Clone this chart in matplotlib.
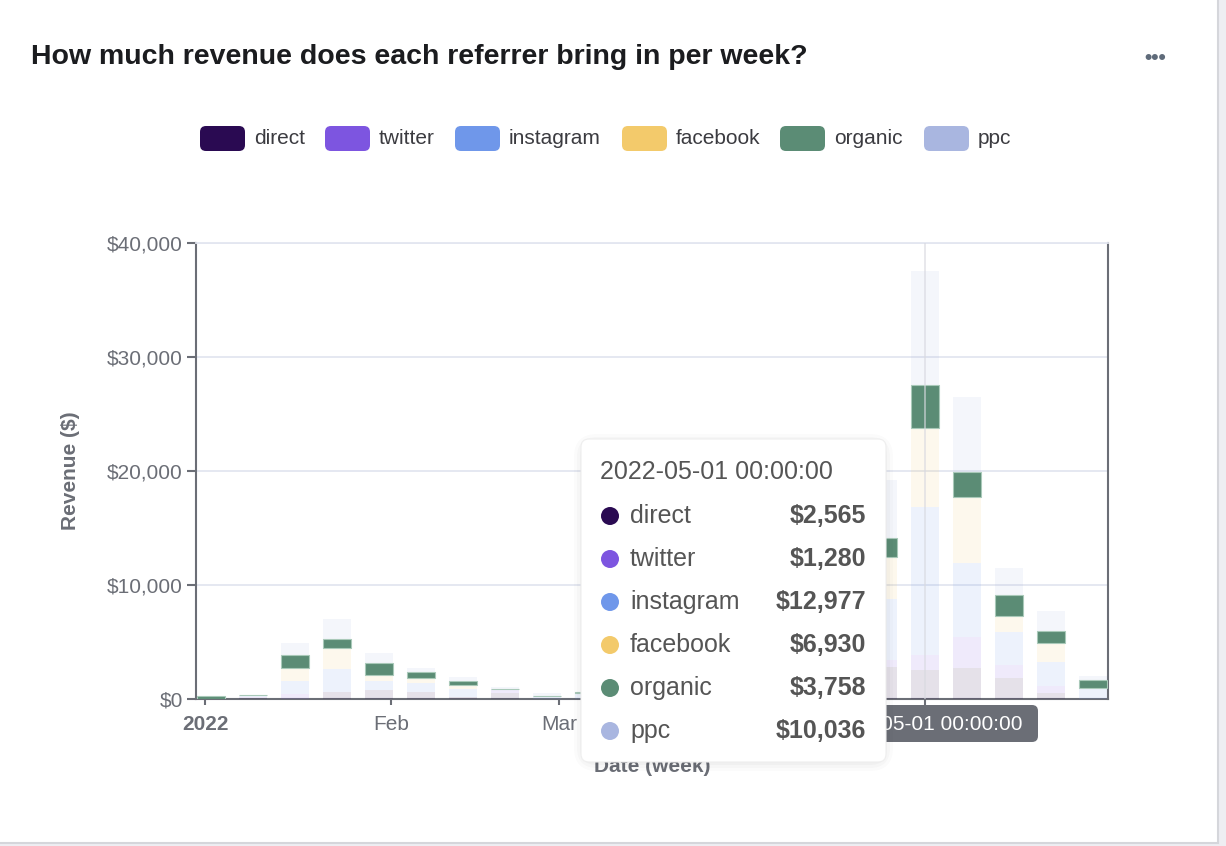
import numpy as np
import pandas as pd
import matplotlib
matplotlib.use('Agg')
import matplotlib.pyplot as plt
import matplotlib.dates as mdates
from matplotlib.patches import FancyBboxPatch, Circle, Rectangle

plt.rcParams['font.family'] = ['Liberation Sans', 'DejaVu Sans']

# weekly revenue per referrer (weeks starting Sunday)
weeks = pd.date_range('2022-01-02', '2022-05-29', freq='7D')
referrers = ['direct', 'twitter', 'instagram', 'facebook', 'organic', 'ppc']
colors = ['#2a0a52', '#7d55e0', '#6f97ea', '#f3ca6b', '#5b8c75', '#a9b6e0']

direct = [0, 120, 0, 640, 790, 640, 200, 500, 0, 0, 200, 400, 600, 900, 1400, 2000,
          2800, 2565, 2680, 1810, 530, 0]
twitter = [0, 60, 465, 0, 0, 0, 0, 400, 0, 0, 100, 150, 250, 350, 450, 550,
           650, 1280, 2780, 1200, 580, 0]
instagram = [0, 40, 1140, 1960, 790, 740, 670, 0, 300, 500, 400, 900, 1500, 2500, 3500, 4500,
             5350, 12977, 6430, 2830, 2100, 930]
facebook = [0, 130, 1110, 1890, 500, 490, 350, 0, 0, 0, 200, 500, 900, 1500, 2200, 3000,
            3650, 6930, 5790, 1460, 1700, 0]
organic = [290, 0, 1140, 740, 1050, 530, 350, 0, 0, 150, 150, 300, 500, 800, 1100, 1400,
           1670, 3758, 2250, 1840, 1020, 740]
ppc = [0, 0, 1080, 1750, 880, 300, 380, 180, 200, 0, 200, 500, 900, 1500, 2500, 3800,
       5060, 10036, 6600, 2340, 1750, 380]

series = [direct, twitter, instagram, facebook, organic, ppc]
hover_idx = 17  # 2022-05-01
highlight = 'organic'

W, H = 1226, 846
fig = plt.figure(figsize=(W / 100, H / 100), dpi=100)
fig.patch.set_facecolor('white')

ax_l, ax_r, ax_t, ax_b = 196, 1108, 243, 699
ax = fig.add_axes([ax_l / W, 1 - ax_b / H, (ax_r - ax_l) / W, (ax_b - ax_t) / H])

x = mdates.date2num(weeks)
bottom = np.zeros(len(weeks))
for name, col, vals in zip(referrers, colors, series):
    vals = np.array(vals, dtype=float)
    if name == highlight:
        ax.bar(x, vals, width=4.8, bottom=bottom, color=col, edgecolor='#a9c9b9',
               linewidth=0.8, zorder=3)
    else:
        ax.bar(x, vals, width=4.8, bottom=bottom, color=col, alpha=0.12,
               linewidth=0, zorder=3)
    bottom += vals

grey = '#6b6e76'
ax.set_ylim(0, 40000)
x0 = mdates.date2num(pd.Timestamp('2022-01-01'))
ax.set_xlim(x0 - 1.5, x0 + 150.5)
ax.set_yticks([0, 10000, 20000, 30000, 40000])
ax.set_yticklabels(['$0', '$10,000', '$20,000', '$30,000', '$40,000'])
tick_dates = pd.to_datetime(['2022-01-01', '2022-02-01', '2022-03-01', '2022-04-01', '2022-05-01'])
ax.set_xticks(mdates.date2num(tick_dates))
ax.set_xticklabels(['2022', 'Feb', 'Mar', 'Apr', 'May'])
ax.get_xticklabels()[0].set_fontweight('bold')
ax.tick_params(axis='both', colors=grey, labelsize=15, width=1.5)
ax.tick_params(axis='y', length=6.5, pad=3)
ax.tick_params(axis='x', length=4.5, pad=7)
ax.grid(axis='y', color='#e3e6f0', linewidth=1.3, zorder=0)
ax.set_axisbelow(True)
for s in ['left', 'bottom', 'right']:
    ax.spines[s].set_color(grey)
    ax.spines[s].set_linewidth(1.5)
ax.spines['top'].set_color('#e3e6f0')
ax.spines['top'].set_linewidth(1.3)
ax.axvline(x[hover_idx], color='#d8d9e0', linewidth=1.2, alpha=0.7, zorder=4)

ax.set_ylabel('Revenue ($)', fontsize=15, fontweight='bold', color=grey)
ax.set_xlabel('Date (week)', fontsize=15, fontweight='bold', color=grey)
ax.yaxis.set_label_coords((80 - ax_l) / (ax_r - ax_l), 0.5)
ax.xaxis.set_label_coords(0.5, (ax_b - 757) / (ax_b - ax_t))

# overlay in pixel coordinates for title, legend and tooltip
ov = fig.add_axes([0, 0, 1, 1], zorder=10)
ov.set_xlim(0, W)
ov.set_ylim(H, 0)
ov.axis('off')
ov.patch.set_alpha(0)

ov.text(31, 57, 'How much revenue does each referrer bring in per week?', fontsize=20.5,
        fontweight='bold', color='#1b1c1f', va='center', ha='left')
ov.text(1155, 58, '•••', fontsize=15, fontweight='bold', color='#5f6b7a', va='center', ha='center')

# card border
ov.add_patch(Rectangle((1219, 0), 7, H, color='#eeeef2', lw=0))
ov.add_patch(Rectangle((0, 844), W, 2, color='#eeeef2', lw=0))
ov.plot([1218, 1218], [0, 843], color='#d5d6db', lw=1.5)
ov.plot([0, 1218], [843, 843], color='#d5d6db', lw=1.5)

# legend
leg_box_x = [200, 325, 455, 622, 780, 924]
for bx, name, col in zip(leg_box_x, referrers, colors):
    ov.add_patch(FancyBboxPatch((bx + 4, 130), 37, 17, boxstyle='round,pad=4,rounding_size=6',
                                facecolor=col, edgecolor='none'))
    ov.text(bx + 54, 139, name, fontsize=15, color='#3b3b40', va='center', ha='left')

# x axis hover label (partly hidden by the tooltip, as in the original)
ov.add_patch(FancyBboxPatch((816, 709), 218, 29, boxstyle='round,pad=4,rounding_size=6',
                            facecolor='#6b6e76', edgecolor='none', zorder=5))
ov.text(925, 724, '2022-05-01 00:00:00', fontsize=15, color='white', va='center',
        ha='center', zorder=6)

# tooltip with soft shadow
tx0, ty0, tx1, ty1 = 581, 439, 886, 762
for i, a in enumerate([0.03, 0.03, 0.025, 0.02, 0.015]):
    p = 3 + i * 3
    ov.add_patch(FancyBboxPatch((tx0 + 8 - p, ty0 + 10 - p), tx1 - tx0 - 16 + 2 * p,
                                ty1 - ty0 - 16 + 2 * p,
                                boxstyle='round,pad=0,rounding_size=%d' % (8 + p),
                                facecolor='black', alpha=a, edgecolor='none', zorder=7))
ov.add_patch(FancyBboxPatch((tx0 + 8, ty0 + 8), tx1 - tx0 - 16, ty1 - ty0 - 16,
                            boxstyle='round,pad=8', facecolor='white', edgecolor='#eeeeee',
                            lw=0.8, zorder=8))
ov.text(600, 472, weeks[hover_idx].strftime('%Y-%m-%d %H:%M:%S'), fontsize=18,
        color='#555555', va='center', ha='left', zorder=9)
for i, (name, col, vals) in enumerate(zip(referrers, colors, series)):
    yy = 516 + i * 43
    ov.add_patch(Circle((610, yy), 9, facecolor=col, edgecolor='none', zorder=9))
    ov.text(630, yy, name, fontsize=18, color='#555555', va='center', ha='left', zorder=9)
    ov.text(866, yy, '${:,}'.format(vals[hover_idx]), fontsize=18, fontweight='bold',
            color='#555555', va='center', ha='right', zorder=9)

fig.savefig('out.png', dpi=100)
